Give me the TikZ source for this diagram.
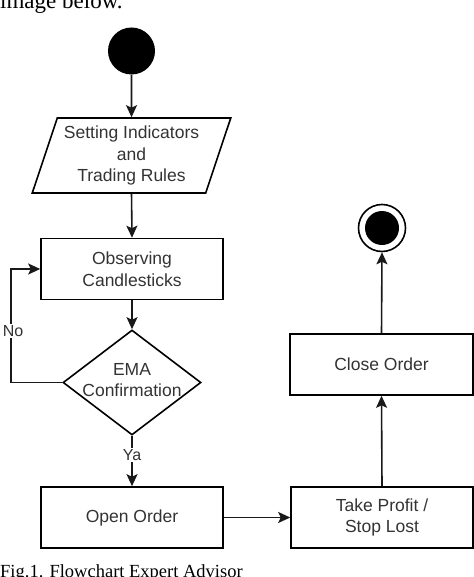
\documentclass[tikz,border=0pt]{standalone}
\usepackage{fontspec}
\setmainfont{Liberation Serif}
\newfontfamily\diafont{Liberation Sans}
\usetikzlibrary{shapes.geometric,arrows.meta}
\tikzset{
  box/.style={draw=black, line width=1.6bp, rectangle, minimum width=182bp, minimum height=61bp, inner sep=0pt, align=center, font=\diafont\fontsize{17.5bp}{21.5bp}\selectfont, text=black!80},
  para/.style={draw=black, line width=1.6bp, trapezium, trapezium left angle=69, trapezium right angle=111, trapezium stretches=true, minimum width=199bp, minimum height=75bp, inner sep=0pt, align=center, font=\diafont\fontsize{17.5bp}{21.6bp}\selectfont, text=black!80},
  dec/.style={draw=black, line width=1.6bp, diamond, minimum width=138bp, minimum height=105bp, inner sep=0pt, font=\diafont\fontsize{17.5bp}{21bp}\selectfont, text=black!80},
  arr/.style={line width=1.6bp, draw=black!90, -{Stealth[length=12bp,width=11bp,inset=2.5bp]}},
  lbl/.style={fill=white, inner sep=1.5bp, font=\diafont\fontsize{16bp}{18bp}\selectfont, text=black!80},
}
\begin{document}
\begin{tikzpicture}[x=1bp,y=-1bp]
\useasboundingbox (0,0) rectangle (474,577);
\clip (0,0) rectangle (474,577);
% surrounding text
\node[anchor=base west, inner sep=0pt, font=\fontsize{23bp}{27bp}\selectfont] (toptext) at (0,9) {image below.};
\node[anchor=base west, inner sep=0pt, font=\fontsize{18.5bp}{22bp}\selectfont] (caption) at (0,577.5) {Fig.1. Flowchart Expert Advisor};
% nodes
\node[circle, fill=black, minimum size=47bp, inner sep=0pt] (start) at (131.5,51) {};
\node[para] (param) at (131.5,155.5) {Setting Indicators\\and\\Trading Rules};
\node[box] (obs) at (132,269) {Observing\\Candlesticks};
\node[dec] (ema) at (132,382.5) {\smash{\makebox[0pt]{\raisebox{-4bp}{\begin{tabular}{@{}c@{}}EMA\\Confirmation\end{tabular}}}}};
\node[box] (open) at (132,517.5) {Open Order};
\node[box] (tp) at (382,517.5) {Take Profit /\\Stop Lost};
\node[box, minimum width=183bp] (close) at (381.5,364.5) {Close Order};
\node[circle, draw=black, line width=1.6bp, minimum size=47bp, inner sep=0pt,
      path picture={\fill[black] (path picture bounding box.center) circle (17bp);}] (end) at (382,228) {};
% connectors
\draw[arr] (start) -- (param.north);
\draw[arr] (param.south) -- (obs.north);
\draw[arr] (obs.south) -- (ema.north);
\coordinate (nocorner) at (11,382.5);
\draw[arr] (ema.west) -- (nocorner) |- (obs.west);
\node[lbl] (nolbl) at (13,331) {No};
\draw[arr] (ema.south) -- (open.north);
\node[lbl] (yalbl) at (132,455) {Ya};
\draw[arr] (open.east) -- (tp.west);
\draw[arr] (tp.north) -- (close.south);
\draw[arr] (close.north) -- (end.south);
\end{tikzpicture}
\end{document}
